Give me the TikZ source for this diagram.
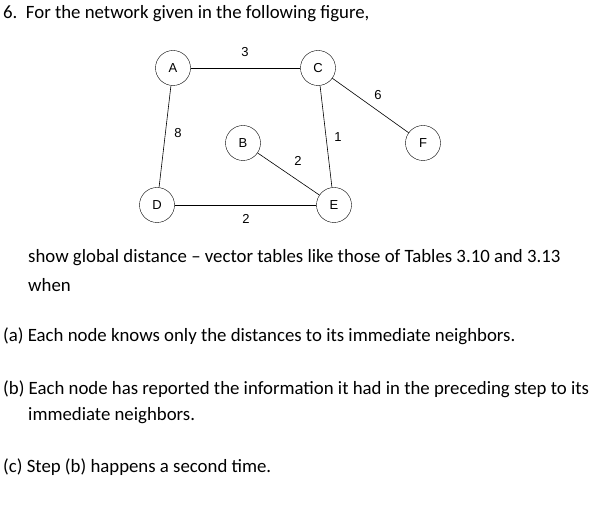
\documentclass[tikz,border=0pt]{standalone}
\usepackage{fontspec}
\setmainfont{Carlito}
\newfontfamily\arialf{Liberation Sans}
\begin{document}
\begin{tikzpicture}[x=1pt,y=-1pt,
  vtx/.style={draw,circle,minimum size=35pt,inner sep=0pt,font=\arialf\fontsize{13}{13}\selectfont},
  edge/.style={draw,line width=0.6pt},
  wl/.style={font=\arialf\fontsize{13}{13}\selectfont},
  txt/.style={anchor=west,inner sep=0pt,font=\fontsize{18.8}{22}\selectfont}]
\useasboundingbox (0,0) rectangle (614,529);
\node[vtx] (A) at (173,68) {A};
\node[vtx] (C) at (318,68) {C};
\node[vtx] (B) at (243,143) {B};
\node[vtx] (F) at (423,143) {F};
\node[vtx] (D) at (157,205) {D};
\node[vtx] (E) at (334,205) {E};
\draw[edge] (A) -- (C);
\draw[edge] (C) -- (F);
\draw[edge] (A) -- (D);
\draw[edge] (C) -- (E);
\draw[edge] (B) -- (E);
\draw[edge] (D) -- (E);
\node[wl] (l1) at (245,52) {3};
\node[wl] (l2) at (378,95) {6};
\node[wl] (l3) at (178,133) {8};
\node[wl] (l4) at (338,137) {1};
\node[wl] (l5) at (298,161) {2};
\node[wl] (l6) at (246,219) {2};
\node[txt] (t1) at (3,14) {6.\ \ For the network given in the following figure,};
\node[txt] (t2) at (28,258) {show global distance -- vector tables like those of Tables 3.10 and 3.13};
\node[txt] (t3) at (28,285) {when};
\node[txt] (t4) at (3,336) {(a) Each node knows only the distances to its immediate neighbors.};
\node[txt] (t5) at (3,389) {(b) Each node has reported the information it had in the preceding step to its};
\node[txt] (t6) at (28,416) {immediate neighbors.};
\node[txt] (t7) at (3,467) {(c) Step (b) happens a second time.};
\end{tikzpicture}
\end{document}
